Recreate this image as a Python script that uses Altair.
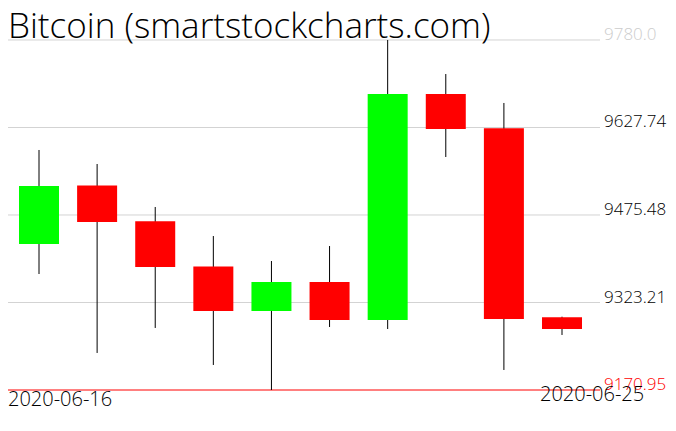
import altair as alt
import pandas as pd

dates = ["2020-06-16", "2020-06-17", "2020-06-18", "2020-06-19", "2020-06-20",
         "2020-06-21", "2020-06-22", "2020-06-23", "2020-06-24", "2020-06-25"]
opens = [9425.0, 9527.0, 9464.5, 9386.0, 9308.4, 9358.9, 9292.8, 9686.0, 9626.4, 9297.5]
highs = [9588.6, 9564.2, 9489.4, 9438.9, 9395.4, 9421.5, 9780.0, 9720.8, 9670.4, 9298.5]
lows = [9372.8, 9235.4, 9278.9, 9214.5, 9170.95, 9280.6, 9277.1, 9576.4, 9205.8, 9266.7]
closes = [9526.0, 9463.3, 9385.0, 9308.4, 9358.9, 9292.8, 9686.0, 9625.1, 9294.5, 9277.1]

tick_values = [9780.0, 9627.74, 9475.48, 9323.21, 9170.95]
tick_labels = ["9780.0", "9627.74", "9475.48", "9323.21", "9170.95"]
tick_colors = ["#cccccc", "#000000", "#000000", "#000000", "#ff0000"]
line_colors = ["#d3d3d3", "#d3d3d3", "#d3d3d3", "#d3d3d3", "#ff0000"]

title_text = "Bitcoin (smartstockcharts.com)"

FONT = "Open Sans"
WEIGHT = 300

df = pd.DataFrame({
    "i": list(range(len(dates))),
    "date": dates,
    "open": opens,
    "high": highs,
    "low": lows,
    "close": closes,
})
df["dir"] = ["up" if c >= o else "down" for o, c in zip(opens, closes)]

ticks = pd.DataFrame({"v": tick_values, "label": tick_labels,
                      "tc": tick_colors, "lc": line_colors})

xs = alt.Scale(domain=[-0.5335, 10.824], nice=False, zero=False, padding=0)
ys = alt.Scale(domain=[9113.53, 9835.68], nice=False, zero=False, padding=0)

grid = alt.Chart(ticks).mark_rule(strokeWidth=1).encode(
    y=alt.Y("v:Q", scale=ys, axis=None),
    x=alt.value(0),
    x2=alt.value(592),
    color=alt.Color("lc:N", scale=None, legend=None),
)

tick_text = alt.Chart(ticks).mark_text(
    align="left", baseline="alphabetic", font=FONT, fontSize=17, fontWeight=WEIGHT
).encode(
    y=alt.Y("v:Q", scale=ys, axis=None),
    x=alt.value(596),
    text="label:N",
    color=alt.Color("tc:N", scale=None, legend=None),
)

wicks = alt.Chart(df).mark_rule(color="black", strokeWidth=1).encode(
    x=alt.X("i:Q", scale=xs, axis=None),
    y=alt.Y("low:Q", scale=ys, axis=None),
    y2="high:Q",
)

bodies = alt.Chart(df).mark_bar(size=40).encode(
    x=alt.X("i:Q", scale=xs, axis=None),
    y=alt.Y("open:Q", scale=ys, axis=None),
    y2="close:Q",
    color=alt.Color("dir:N", scale=alt.Scale(domain=["up", "down"],
                                             range=["#00ff00", "#ff0000"]),
                    legend=None),
)

date_first = alt.Chart(df.iloc[[0]]).mark_text(
    align="left", baseline="alphabetic", font=FONT, fontSize=20, fontWeight=WEIGHT,
    dx=-31
).encode(
    x=alt.X("i:Q", scale=xs, axis=None),
    y=alt.value(398),
    text="date:N",
    color=alt.value("black"),
)
date_last = alt.Chart(df.iloc[[-1]]).mark_text(
    align="left", baseline="alphabetic", font=FONT, fontSize=20, fontWeight=WEIGHT,
    dx=-22
).encode(
    x=alt.X("i:Q", scale=xs, axis=None),
    y=alt.value(393),
    text="date:N",
    color=alt.value("black"),
)

title = alt.Chart(pd.DataFrame({"t": [title_text]})).mark_text(
    align="left", baseline="alphabetic", font=FONT, fontSize=35, fontWeight=WEIGHT
).encode(
    x=alt.value(0),
    y=alt.value(30),
    text="t:N",
    color=alt.value("black"),
)

chart = alt.layer(grid, tick_text, wicks, bodies, date_first, date_last, title).properties(
    width=660, height=415,
    autosize=alt.AutoSizeParams(type="none"),
    padding=0,
).configure_view(stroke=None)

chart.save("out.html", embed_options={"renderer": "svg", "actions": False})
